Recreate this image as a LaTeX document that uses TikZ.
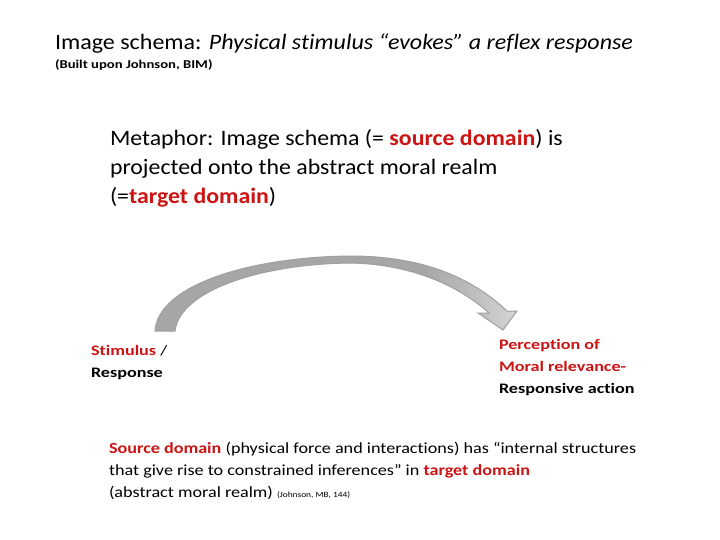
\documentclass[tikz,border=0pt]{standalone}
\usepackage{fontspec}
\usepackage{graphicx}
\setmainfont{Carlito}[Ligatures=NoCommon]
\definecolor{redtxt}{RGB}{204,20,20}
\definecolor{arrdark}{RGB}{166,166,166}
\definecolor{arrlight}{RGB}{222,222,222}
\definecolor{arredge}{RGB}{160,160,160}
\pgfdeclarehorizontalshading{arrowshade}{100bp}{color(0bp)=(arrdark); color(62bp)=(arrdark); color(78bp)=(arrlight); color(100bp)=(arrlight)}
\newcommand{\wide}[2]{\scalebox{#1}[1]{#2}}
\begin{document}
\begin{tikzpicture}[x=1pt,y=-1pt,
  txt/.style={anchor=base west,inner sep=0pt,outer sep=0pt},
  title/.style={txt,font=\fontsize{22}{26}\selectfont},
  small/.style={txt,font=\fontsize{12}{14}\selectfont\bfseries},
  meta/.style={txt,font=\fontsize{22}{26}\selectfont},
  lab/.style={txt,font=\fontsize{14.5}{17}\selectfont\bfseries},
  para/.style={txt,font=\fontsize{15.5}{19}\selectfont},
  red/.style={text=redtxt}]
\useasboundingbox[fill=white] (0,0) rectangle (720,540);
% title
\node[title] (t1) at (55,50) {\wide{1.093}{Image schema: \textit{Physical stimulus “evokes” a reflex response}}};
\node[small] (t2) at (55,69) {\wide{1.22}{(Built upon Johnson, BIM)}};
% metaphor
\node[meta] (m1) at (110,146) {\wide{1.083}{Metaphor: Image schema (= \textcolor{redtxt}{\textbf{source domain}}) is}};
\node[meta] (m2) at (110,175) {\wide{1.083}{projected onto the abstract moral realm}};
\node[meta] (m3) at (110,204) {\wide{1.083}{(=\textcolor{redtxt}{\textbf{target domain}})}};
% arrow
\path[draw=arredge,line width=1pt,shading=arrowshade]
  (155,331) .. controls (158,285) and (250,257) .. (350,256)
  .. controls (420,256) and (470,276) .. (507,311)
  -- (517,311) -- (503,330) -- (478,313) -- (489,313)
  .. controls (458,285) and (410,264) .. (350,263)
  .. controls (262,264) and (180,290) .. (175,331) -- cycle;
% labels
\node[lab] (s1) at (91,355) {\wide{1.25}{\textcolor{redtxt}{Stimulus} \mdseries/}};
\node[lab] (s2) at (91,377) {\wide{1.25}{Response}};
\node[lab,red] (p1) at (499,349) {\wide{1.25}{Perception of}};
\node[lab,red] (p2) at (499,371) {\wide{1.25}{Moral relevance-}};
\node[lab] (p3) at (499,393) {\wide{1.25}{Responsive action}};
% paragraph
\node[para] (b1) at (109,453) {\wide{1.17}{\textcolor{redtxt}{\textbf{Source domain}} (physical force and interactions) has “internal structures}};
\node[para] (b2) at (109,475) {\wide{1.17}{that give rise to constrained inferences” in \textcolor{redtxt}{\textbf{target domain}}}};
\node[para] (b3) at (109,497) {\wide{1.17}{(abstract moral realm) {\fontsize{8}{10}\selectfont (Johnson, MB, 144)}}};
\end{tikzpicture}
\end{document}
